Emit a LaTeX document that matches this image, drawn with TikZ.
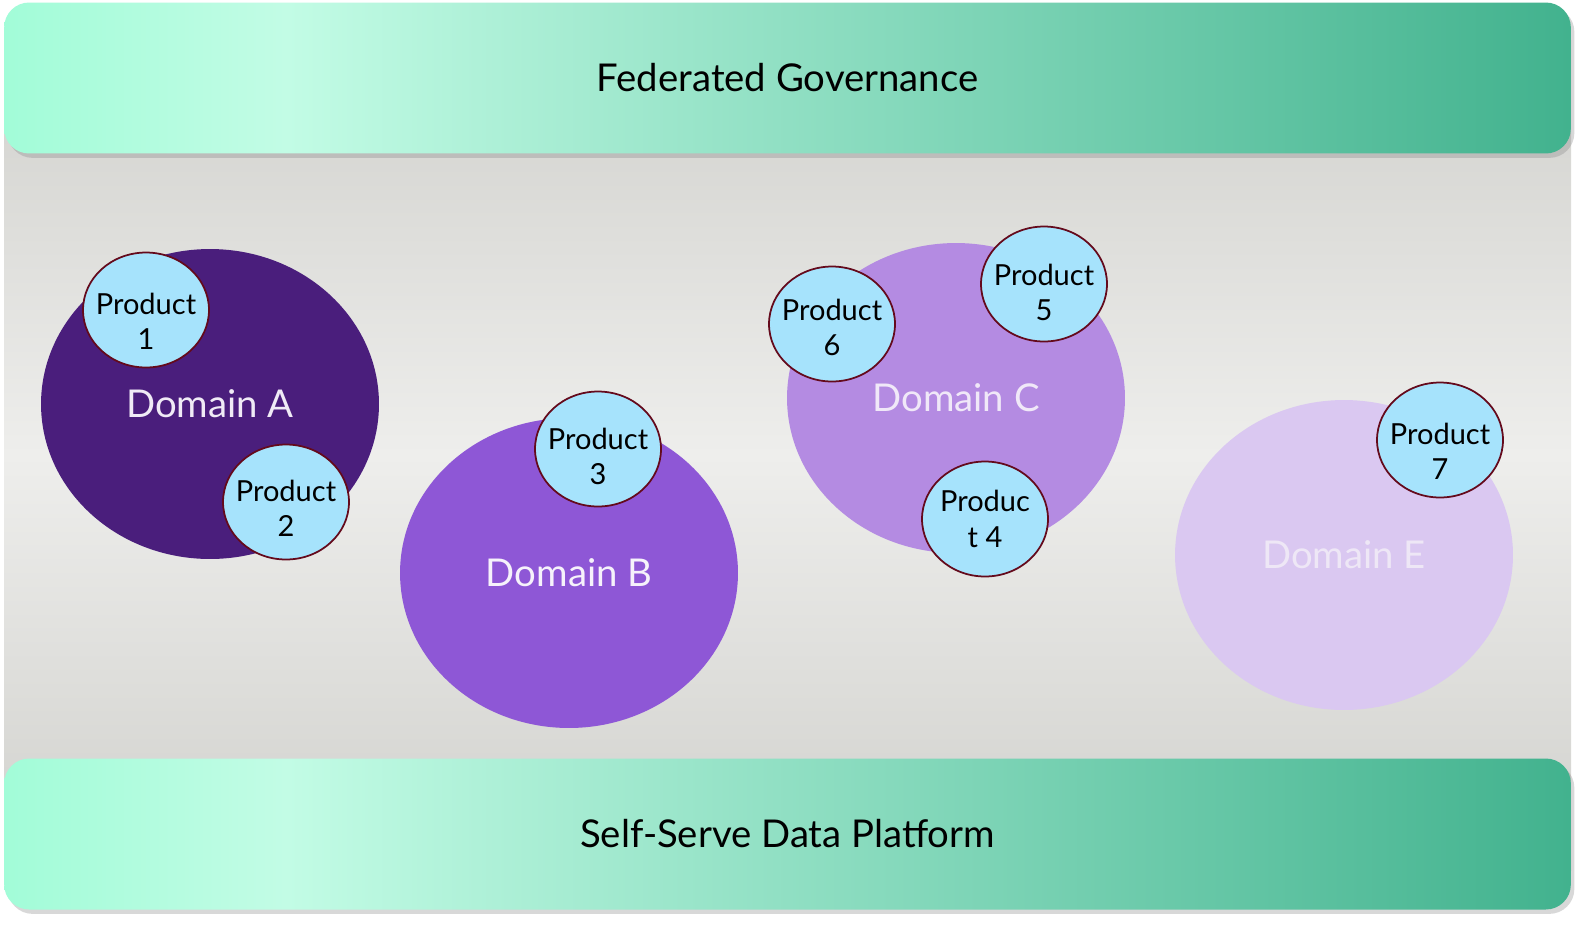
\documentclass[tikz,border=0pt]{standalone}
\usepackage{fontspec}
\setmainfont{Lato}
\usetikzlibrary{shapes.geometric,shadows,positioning}
\definecolor{barleft}{RGB}{162, 252, 216}
\definecolor{barlight}{RGB}{194, 252, 229}
\definecolor{barright}{RGB}{66, 178, 142}
\definecolor{bgdark}{RGB}{208, 208, 204}
\definecolor{bglight}{RGB}{238, 238, 236}
\definecolor{domA}{RGB}{74, 30, 124}
\definecolor{domB}{RGB}{142, 87, 214}
\definecolor{domC}{RGB}{180, 139, 226}
\definecolor{domE}{RGB}{218, 200, 241}
\definecolor{prodfill}{RGB}{166, 227, 252}
\definecolor{prodline}{RGB}{100, 10, 28}
\pgfdeclarehorizontalshading{barshade}{100bp}{%
  color(0bp)=(barleft); color(25bp)=(barleft); color(34bp)=(barlight);
  color(75bp)=(barright); color(100bp)=(barright)}
% two-line product label, dropped a little below the bubble centre
\newcommand{\prodlabel}[3][0.2cm]{\raisebox{-#1}[\height][\depth]{%
  \begin{tabular}{@{}c@{}}#2\\#3\end{tabular}}}

\begin{document}
\begin{tikzpicture}[x=0.02cm, y=-0.02cm,
  layerbar/.style={rectangle, rounded corners=0.5cm, shading=barshade,
    minimum width=31.34cm, minimum height=3.02cm, inner sep=0pt,
    font=\fontsize{21.8}{26}\selectfont,
    drop shadow={shadow xshift=2pt, shadow yshift=-2.5pt, opacity=0.3}},
  domainblob/.style={ellipse, inner sep=0pt, outer sep=0pt,
    minimum width=6.76cm, minimum height=6.2cm,
    font=\fontsize{21.8}{26}\selectfont},
  prodbubble/.style={ellipse, draw=prodline, fill=prodfill, line width=1pt,
    inner xsep=-0.2cm, inner ysep=0pt, minimum width=2.52cm, minimum height=2.3cm,
    font=\fontsize{16.5}{20}\selectfont}]

  % page frame
  \useasboundingbox[fill=white] (0,0) rectangle (1584,924);

  % ============================================================
  % BACKGROUND: grey band between the two bars
  % ============================================================
  \fill[top color=bgdark, bottom color=bgdark, middle color=bglight]
    (4,40) rectangle (1571,870);

  % ============================================================
  % DOMAINS
  % ============================================================
  \node[domainblob, fill=domA, text={rgb,255:red,240;green,235;blue,246}]
    (domainA) at (210,404) {Domain A};
  \node[domainblob, fill=domB, text={rgb,255:red,246;green,242;blue,251}]
    (domainB) at (569,573) {Domain B};
  \node[domainblob, fill=domC, text={rgb,255:red,240;green,232;blue,248}]
    (domainC) at (956,398) {Domain C};
  \node[domainblob, fill=domE, text={rgb,255:red,238;green,231;blue,246}]
    (domainE) at (1344,555) {Domain E};

  % ============================================================
  % DATA PRODUCTS
  % ============================================================
  \node[prodbubble] (prod1) at (146,310) {\prodlabel[0.30cm]{Product}{1}};
  \node[prodbubble] (prod2) at (286,502) {\prodlabel[0.20cm]{Product}{2}};
  \node[prodbubble] (prod3) at (598,449) {\prodlabel[0.22cm]{Product}{3}};
  \node[prodbubble] (prod4) at (985,519) {\prodlabel[0.07cm]{Produc}{t 4}};
  \node[prodbubble] (prod5) at (1044,284) {\prodlabel[0.24cm]{Product}{5}};
  \node[prodbubble] (prod6) at (832,324) {\prodlabel[0.14cm]{Product}{6}};
  \node[prodbubble] (prod7) at (1440,440) {\prodlabel[0.30cm]{Product}{7}};

  % ============================================================
  % TOP AND BOTTOM BARS
  % ============================================================
  \node[layerbar] (governance) at (787.5,78) {Federated Governance};
  \node[layerbar] (platform) at (787.5,834) {Self-Serve Data Platform};

\end{tikzpicture}
\end{document}
